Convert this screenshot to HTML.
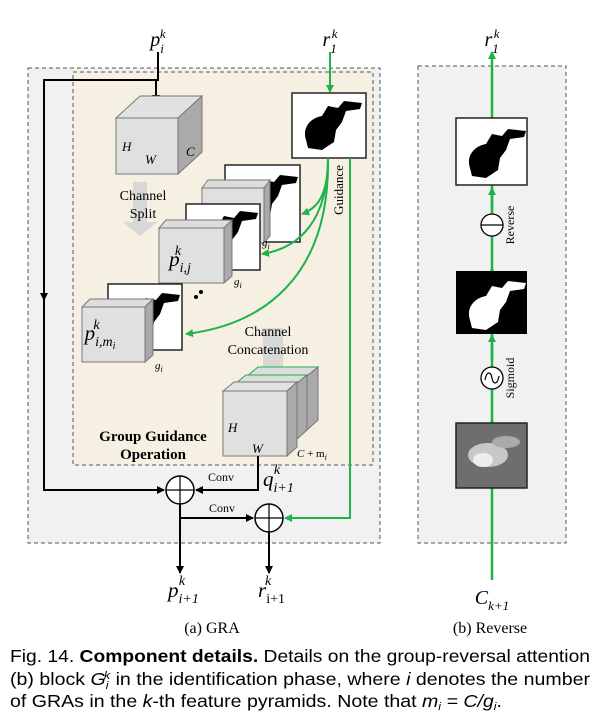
<!DOCTYPE html>
<html><head><meta charset="utf-8"><style>
body{margin:0;background:#fff}
svg{display:block}
.t{font-family:"Liberation Serif",serif}
.m{font-family:"Liberation Serif",serif;font-style:italic}
.cap{font-family:"Liberation Sans",sans-serif;font-size:17.5px}
</style></head><body>
<svg width="600" height="725" viewBox="0 0 600 725" xmlns="http://www.w3.org/2000/svg">
<defs>
<marker id="ab" markerWidth="8" markerHeight="8" refX="7" refY="4" orient="auto" markerUnits="userSpaceOnUse"><path d="M0,0 L8,4 L0,8z" fill="#000"/></marker>
<marker id="ag" markerWidth="8" markerHeight="8" refX="7" refY="4" orient="auto" markerUnits="userSpaceOnUse"><path d="M0,0 L8,4 L0,8z" fill="#1db34a"/></marker>
<path id="blob" d="M10,44 C6,32 14,22 26,20 L32,10 L42,12 L48,5 L66,7 L64,13 L50,15 L46,26 L40,34 L38,46 L26,54 L12,52z"/>
</defs>
<rect x="28" y="68" width="352" height="475" fill="#f1f1f1" stroke="#555" stroke-dasharray="4,3"/>
<rect x="73" y="72" width="300" height="393" fill="#f6f0e2" stroke="#555" stroke-dasharray="4,3"/>
<rect x="418" y="66" width="148" height="477" fill="#f1f1f1" stroke="#555" stroke-dasharray="4,3"/>

<text x="158" y="46" class="m" font-size="20" text-anchor="middle">p<tspan font-size="13" dy="7">i</tspan><tspan font-size="13" dy="-15" dx="-4">k</tspan></text>
<path d="M158,52 V80 H44 V490 H164" fill="none" stroke="#000" stroke-width="2" marker-end="url(#ab)"/>
<path d="M44,290 V300" stroke="#000" stroke-width="2" marker-end="url(#ab)"/>
<path d="M156,80 V102" stroke="#000" stroke-width="2" marker-end="url(#ab)"/>

<polygon points="116,118 140,96 202,96 178,118" fill="#e2e2e2" stroke="#777"/>
<polygon points="178,118 202,96 202,152 178,174" fill="#aaa" stroke="#777"/>
<rect x="116" y="118" width="62" height="56" fill="#e0e0e0" stroke="#777"/>
<text x="122" y="151" class="m" font-size="13">H</text>
<text x="145" y="164" class="m" font-size="13">W</text>
<text x="186" y="156" class="m" font-size="13">C</text>
<polygon points="133,182 147,182 147,222 157,222 140,236 123,222 133,222" fill="#d8d8d8"/>
<text x="143" y="200" class="t" font-size="14" text-anchor="middle">Channel</text>
<text x="143" y="218" class="t" font-size="14" text-anchor="middle">Split</text>

<rect x="292" y="93" width="74" height="65" fill="#fff" stroke="#222" stroke-width="1.5"/>
<use href="#blob" x="296" y="96"/>
<text x="330" y="46" class="m" font-size="20" text-anchor="middle">r<tspan font-size="13" dy="7">1</tspan><tspan font-size="13" dy="-15" dx="-5">k</tspan></text>
<path d="M330,52 V92" stroke="#1db34a" stroke-width="2" marker-end="url(#ag)"/>
<path d="M350,158 V518 H285" fill="none" stroke="#1db34a" stroke-width="2" marker-end="url(#ag)"/>
<text transform="translate(343,190) rotate(-90)" class="t" font-size="13" text-anchor="middle">Guidance</text>

<rect x="225" y="165" width="75" height="77" fill="#fff" stroke="#222" stroke-width="1.5"/>
<use href="#blob" x="232" y="170"/>
<polygon points="202,188 208,180 270,180 264,188" fill="#ddd" stroke="#777"/>
<polygon points="264,188 270,180 270,236 264,243" fill="#aaa" stroke="#777"/>
<rect x="202" y="188" width="62" height="55" fill="#e0e0e0" stroke="#777"/>
<text x="262" y="246" class="m" font-size="11">g<tspan font-size="8" dy="3">i</tspan></text>
<rect x="186" y="204" width="74" height="66" fill="#fff" stroke="#222" stroke-width="1.5"/>
<use href="#blob" x="192" y="206"/>
<polygon points="159,228 166,220 232,220 224,228" fill="#ddd" stroke="#777"/>
<polygon points="224,228 232,220 232,276 224,283" fill="#aaa" stroke="#777"/>
<rect x="159" y="228" width="65" height="55" fill="#e0e0e0" stroke="#777"/>
<text x="180" y="266" class="m" font-size="21" text-anchor="middle">p<tspan font-size="14" dy="6">i,j</tspan><tspan font-size="14" dy="-17" dx="-16">k</tspan></text>
<text x="234" y="285" class="m" font-size="11">g<tspan font-size="8" dy="3">i</tspan></text>
<circle cx="196" cy="297" r="2" fill="#000"/><circle cx="201" cy="292" r="2" fill="#000"/>
<rect x="108" y="284" width="74" height="66" fill="#fff" stroke="#222" stroke-width="1.5"/>
<use href="#blob" x="114" y="288"/>
<polygon points="82,307 90,299 153,299 145,307" fill="#ddd" stroke="#777"/>
<polygon points="145,307 153,299 153,355 145,362" fill="#aaa" stroke="#777"/>
<rect x="82" y="307" width="63" height="55" fill="#e0e0e0" stroke="#777"/>
<text x="100" y="340" class="m" font-size="21" text-anchor="middle">p<tspan font-size="14" dy="6">i,m<tspan font-size="10" dy="3">i</tspan></tspan><tspan font-size="14" dy="-20" dx="-22">k</tspan></text>
<text x="155" y="369" class="m" font-size="11">g<tspan font-size="8" dy="3">i</tspan></text>

<path d="M328,158 C328,195 318,208 302,214" fill="none" stroke="#1db34a" stroke-width="2" marker-end="url(#ag)"/>
<path d="M328,158 C328,220 300,248 262,254" fill="none" stroke="#1db34a" stroke-width="2" marker-end="url(#ag)"/>
<path d="M328,158 C330,280 260,325 186,334" fill="none" stroke="#1db34a" stroke-width="2" marker-end="url(#ag)"/>

<polygon points="263,328 283,328 283,370 291,370 273,384 255,370 263,370" fill="#d8d8d8"/>
<text x="268" y="336" class="t" font-size="14" text-anchor="middle">Channel</text>
<text x="268" y="354" class="t" font-size="14" text-anchor="middle">Concatenation</text>
<polygon points="247,376 258,367 318,367 307,376" fill="#ddd" stroke="#1db34a"/>
<polygon points="307,376 318,367 318,420 307,430" fill="#aaa" stroke="#777"/>
<polygon points="235,384 246,375 307,375 296,384" fill="#ddd" stroke="#1db34a"/>
<polygon points="296,384 307,375 307,430 296,440" fill="#aaa" stroke="#777"/>
<polygon points="223,391 234,382 297,382 287,391" fill="#e2e2e2" stroke="#777"/>
<polygon points="287,391 297,382 297,447 287,456" fill="#aaa" stroke="#777"/>
<rect x="223" y="391" width="64" height="65" fill="#e0e0e0" stroke="#777"/>
<text x="228" y="432" class="m" font-size="13">H</text>
<text x="252" y="453" class="m" font-size="13">W</text>
<text x="297" y="457" class="m" font-size="11">C <tspan font-style="normal">+ m</tspan><tspan font-size="8" dy="3">i</tspan></text>
<text x="153" y="441" class="t" font-size="15" font-weight="bold" text-anchor="middle">Group Guidance</text>
<text x="153" y="459" class="t" font-size="15" font-weight="bold" text-anchor="middle">Operation</text>

<path d="M258,456 V490 H196" fill="none" stroke="#000" stroke-width="2" marker-end="url(#ab)"/>
<text x="208" y="481" class="t" font-size="12">Conv</text>
<text x="263" y="486" class="m" font-size="21">q<tspan font-size="14" dy="6">i+1</tspan><tspan font-size="14" dy="-18" dx="-20">k</tspan></text>
<circle cx="180" cy="490" r="14" fill="#fff" stroke="#000" stroke-width="1.5"/>
<path d="M166,490 H194 M180,476 V504" stroke="#000" stroke-width="1.2"/>
<path d="M180,504 V573" stroke="#000" stroke-width="2" marker-end="url(#ab)"/>
<path d="M180,518 H253" stroke="#000" stroke-width="2" marker-end="url(#ab)"/>
<text x="209" y="512" class="t" font-size="12">Conv</text>
<circle cx="269" cy="518" r="14" fill="#fff" stroke="#000" stroke-width="1.5"/>
<path d="M255,518 H283 M269,504 V532" stroke="#000" stroke-width="1.2"/>
<path d="M269,532 V573" stroke="#000" stroke-width="2" marker-end="url(#ab)"/>
<text x="168" y="597" class="m" font-size="21">p<tspan font-size="14" dy="6">i+1</tspan><tspan font-size="14" dy="-18" dx="-20">k</tspan></text>
<text x="258" y="597" class="m" font-size="21">r<tspan font-size="14" dy="6" font-style="normal">i+1</tspan><tspan font-size="14" dy="-18" dx="-20">k</tspan></text>

<text x="492" y="46" class="m" font-size="20" text-anchor="middle">r<tspan font-size="13" dy="7">1</tspan><tspan font-size="13" dy="-15" dx="-5">k</tspan></text>
<path d="M492,580 V52" stroke="#1db34a" stroke-width="2.5" marker-end="url(#ag)"/>
<path d="M492,330 V268" stroke="#1db34a" stroke-width="2.5" marker-end="url(#ag)"/>
<path d="M492,490 V420" stroke="#1db34a" stroke-width="2.5" marker-end="url(#ag)"/>
<path d="M492,360 V335" stroke="#1db34a" stroke-width="2.5" marker-end="url(#ag)"/>
<path d="M492,210 V188" stroke="#1db34a" stroke-width="2.5" marker-end="url(#ag)"/>
<rect x="456" y="118" width="71" height="67" fill="#fff" stroke="#222" stroke-width="1.5"/>
<use href="#blob" x="460" y="124"/>
<circle cx="492" cy="225" r="11" fill="#fff" stroke="#000" stroke-width="1.3"/>
<path d="M481,225 H503" stroke="#000" stroke-width="1.3"/>
<text transform="translate(514,225) rotate(-90)" class="t" font-size="12" text-anchor="middle">Reverse</text>
<rect x="456" y="271" width="71" height="63" fill="#000"/>
<use href="#blob" x="460" y="276" fill="#fff"/>
<circle cx="492" cy="378" r="11" fill="#fff" stroke="#000" stroke-width="1.3"/>
<path d="M485,380 C487,370 491,372 492,378 C493,384 497,386 499,376" fill="none" stroke="#000" stroke-width="1.2"/>
<text transform="translate(514,378) rotate(-90)" class="t" font-size="12" text-anchor="middle">Sigmoid</text>
<rect x="456" y="423" width="71" height="65" fill="#6e6e6e" stroke="#222" stroke-width="1.5"/>
<ellipse cx="488" cy="455" rx="20" ry="12" fill="#c8c8c8"/>
<ellipse cx="483" cy="460" rx="10" ry="7" fill="#eee"/>
<ellipse cx="506" cy="442" rx="14" ry="6" fill="#aaa"/>
<text x="492" y="604" class="m" font-size="20" text-anchor="middle">C<tspan font-size="13" dy="6">k+1</tspan></text>

<text x="212" y="633" class="t" font-size="16" text-anchor="middle">(a) GRA</text>
<text x="490" y="633" class="t" font-size="16" text-anchor="middle">(b) Reverse</text>
<text x="10" y="662" class="cap" textLength="580" lengthAdjust="spacingAndGlyphs">Fig. 14. <tspan font-weight="bold">Component details.</tspan> Details on the group-reversal attention</text>
<text x="10" y="685" class="cap" textLength="580" lengthAdjust="spacingAndGlyphs">(b) block <tspan font-style="italic">G<tspan font-size="11" dy="4">i</tspan><tspan font-size="11" dy="-10" dx="-4">k</tspan></tspan><tspan dy="6"> in the identification phase, where </tspan><tspan font-style="italic">i</tspan> denotes the number</text>
<text x="10" y="707" class="cap" textLength="492" lengthAdjust="spacingAndGlyphs">of GRAs in the <tspan font-style="italic">k</tspan>-th feature pyramids. Note that <tspan font-style="italic">m<tspan font-size="11" dy="3">i</tspan><tspan dy="-3"> = C/g</tspan><tspan font-size="11" dy="3">i</tspan></tspan><tspan dy="-3">.</tspan></text>
</svg>
</body></html>
